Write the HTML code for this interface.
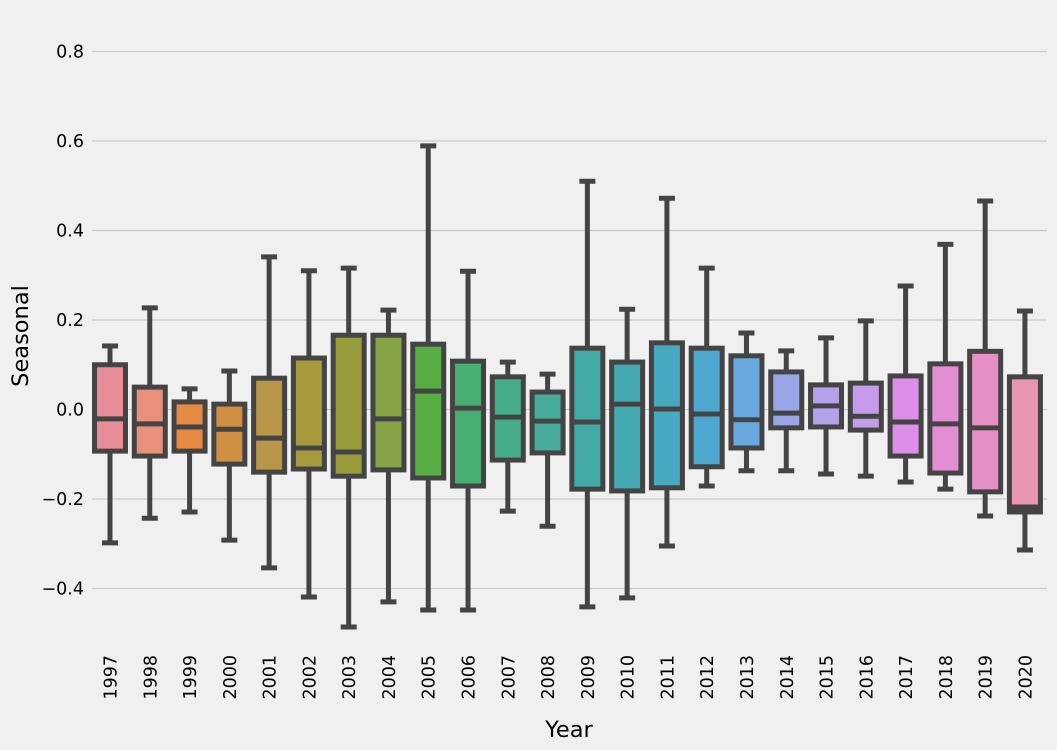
<!DOCTYPE html>
<html><head><meta charset="utf-8"><style>
html,body{margin:0;padding:0;background:#f0f0f0;}
svg{display:block;font-family:"DejaVu Sans","Liberation Sans",sans-serif;}
</style></head><body>
<svg id="chart" width="1057" height="750">
<rect width="1057" height="750" fill="#f0f0f0"/>
<g id="grid"></g><g id="boxes"></g><g id="labels"></g>
<text x="569" y="737" text-anchor="middle" font-size="22.5" fill="#000">Year</text>
<text transform="translate(28,336) rotate(-90)" text-anchor="middle" font-size="22.5" fill="#000">Seasonal</text>
</svg>
<script>
const years=["1997","1998","1999","2000","2001","2002","2003","2004","2005","2006","2007","2008","2009","2010","2011","2012","2013","2014","2015","2016","2017","2018","2019","2020"];
const whiskerLow=[-0.298,-0.243,-0.229,-0.292,-0.354,-0.419,-0.486,-0.43,-0.448,-0.448,-0.227,-0.261,-0.441,-0.421,-0.305,-0.171,-0.137,-0.137,-0.144,-0.149,-0.162,-0.178,-0.238,-0.314];
const q1=[-0.093,-0.104,-0.093,-0.122,-0.14,-0.133,-0.149,-0.135,-0.153,-0.171,-0.113,-0.097,-0.178,-0.182,-0.175,-0.128,-0.086,-0.041,-0.039,-0.046,-0.104,-0.142,-0.184,-0.229];
const medians=[-0.021,-0.032,-0.039,-0.044,-0.064,-0.086,-0.095,-0.021,0.041,0.003,-0.017,-0.026,-0.028,0.012,0.001,-0.01,-0.023,-0.008,0.008,-0.015,-0.028,-0.032,-0.041,-0.218];
const q3=[0.10,0.05,0.017,0.012,0.07,0.115,0.166,0.166,0.146,0.108,0.073,0.039,0.137,0.106,0.149,0.137,0.12,0.084,0.055,0.059,0.075,0.102,0.13,0.073];
const whiskerHigh=[0.142,0.227,0.046,0.086,0.341,0.31,0.316,0.222,0.589,0.309,0.106,0.079,0.51,0.224,0.472,0.316,0.171,0.131,0.16,0.198,0.276,0.369,0.466,0.22];
const colors=["#e98e98","#e8907a","#e58a42","#cf9043","#b99548","#a69a3d","#999c3b","#86a346","#57ae45","#48ae74","#46ad8a","#47ac99","#43aaa5","#45a9b1","#47a9c0","#4da7cf","#6aa8e0","#9aa6e8","#b2a2ea","#c59ceb","#dc8ee8","#e38ed2","#e690c5","#e795b0"];
const yTicks=[0.8,0.6,0.4,0.2,0.0,-0.2,-0.4];
const NS="http://www.w3.org/2000/svg";
const y=v=>409.5-v*447.5;
const x=i=>110+i*39.78;
const bw=31;
function mk(tag,attrs,parent){const e=document.createElementNS(NS,tag);for(const k in attrs)e.setAttribute(k,attrs[k]);parent.appendChild(e);return e;}
const G=document.getElementById('grid'),B=document.getElementById('boxes'),L=document.getElementById('labels');
yTicks.forEach(t=>{
 const l=mk('line',{x1:92,x2:1047,y1:y(t),y2:y(t),stroke:'#cbcbcb','stroke-width':1.3},G);
 
 
 const tx=mk('text',{x:84,y:y(t)+6,'text-anchor':'end','font-size':17.5,fill:'#000'},L);
 tx.textContent=(t<0?'\u2212'+Math.abs(t).toFixed(1):t.toFixed(1));
 
 
});
years.forEach((yr,i)=>{
 const cx=x(i);
 const g=mk('g',{},B);
 
 
 const st={stroke:'#444','stroke-width':5,fill:'none'};
 mk('line',Object.assign({x1:cx,x2:cx,y1:y(q3[i]),y2:y(whiskerHigh[i])},st),g);
 mk('line',Object.assign({x1:cx,x2:cx,y1:y(q1[i]),y2:y(whiskerLow[i])},st),g);
 mk('line',Object.assign({x1:cx-8,x2:cx+8,y1:y(whiskerHigh[i]),y2:y(whiskerHigh[i])},st),g);
 mk('line',Object.assign({x1:cx-8,x2:cx+8,y1:y(whiskerLow[i]),y2:y(whiskerLow[i])},st),g);
 mk('rect',{x:cx-bw/2,y:y(q3[i]),width:bw,height:y(q1[i])-y(q3[i]),fill:colors[i],stroke:'#444','stroke-width':5},g);
 mk('line',Object.assign({x1:cx-bw/2,x2:cx+bw/2,y1:y(medians[i]),y2:y(medians[i])},st),g);
 const t=mk('text',{transform:`translate(${cx+6.5},${655}) rotate(-90)`,'text-anchor':'end','font-size':17.5,fill:'#000'},L);
 t.textContent=yr;
 
 
});
</script>
</body></html>
